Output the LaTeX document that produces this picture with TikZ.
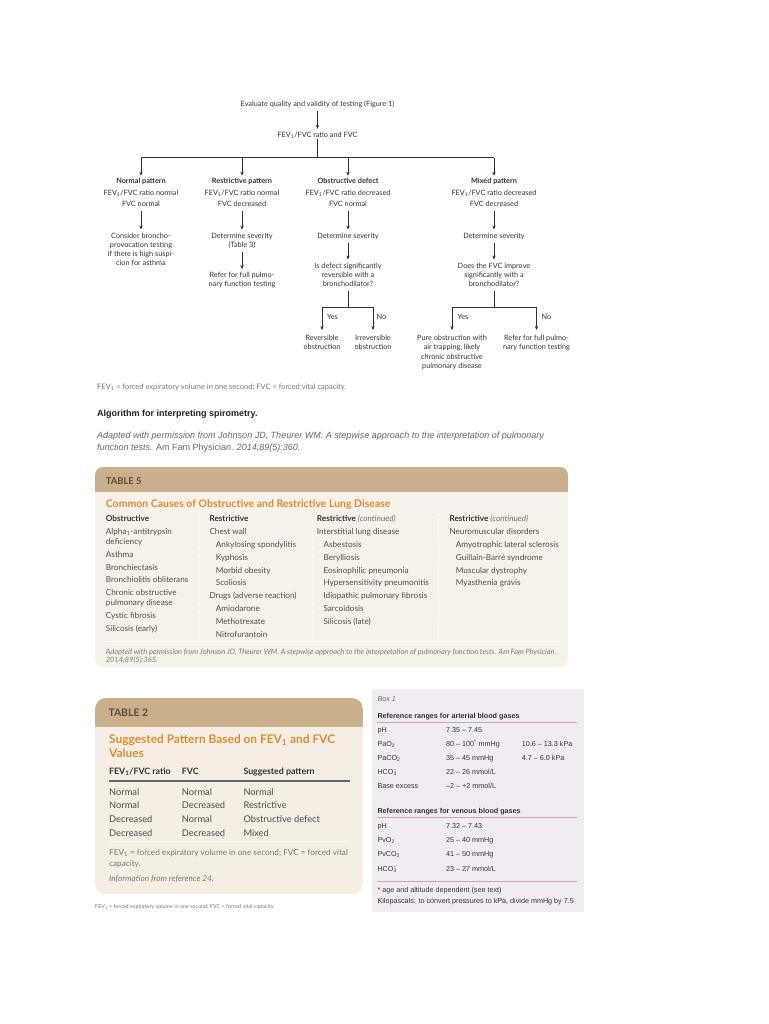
\documentclass[tikz,border=0pt]{standalone}
\usepackage{fontspec}
\setmainfont{Lato}
\newfontfamily\fa{Liberation Sans}
\usetikzlibrary{arrows.meta}
\newcommand\sbs[1]{\textsubscript{#1}}
\newcommand\hco{HCO\rlap{\textsubscript{3}}\textsuperscript{−}}
\definecolor{fc}{HTML}{333333}
\definecolor{capg}{HTML}{777777}
\definecolor{adg}{HTML}{666666}
\definecolor{algc}{HTML}{1F1F2A}
\definecolor{tan}{HTML}{C9B08A}
\definecolor{body}{HTML}{F7F2E9}
\definecolor{bodyb}{HTML}{F4EEE4}
\definecolor{orng}{HTML}{E08A2E}
\definecolor{hdr}{HTML}{5B4B3B}
\definecolor{tx}{HTML}{4D4D4D}
\definecolor{txd}{HTML}{333333}
\definecolor{boxbg}{HTML}{F1ECF1}
\definecolor{boxln}{HTML}{C6A6B6}
\definecolor{boxtx}{HTML}{333333}
\begin{document}
\begin{tikzpicture}[x=1pt,y=-1pt,
  ft/.style={font=\fontsize{7.3}{8}\selectfont, text=fc, inner sep=0pt, text height=5.3pt, text depth=1.8pt, anchor=base},
  ftb/.style={ft, font=\fontsize{7.3}{8}\selectfont\bfseries},
  ln/.style={draw=fc, line width=0.6pt},
  arr/.style={ln, -{Stealth[length=4pt,width=3.4pt]}, shorten <=2.3pt, shorten >=3.2pt},
  t5/.style={font=\fontsize{8.2}{9}\selectfont, text=tx, inner sep=0pt, anchor=base west},
  t5h/.style={font=\fontsize{8.2}{9}\selectfont\bfseries, text=txd, inner sep=0pt, anchor=base west},
  t2/.style={font=\fontsize{9.3}{10}\selectfont, text=tx, inner sep=0pt, anchor=base west},
  t2h/.style={font=\fontsize{8.8}{10}\selectfont\bfseries, text=txd, inner sep=0pt, anchor=base west},
  b1/.style={font=\fa\fontsize{7.2}{8}\selectfont, text=boxtx, inner sep=0pt, anchor=base west},
  b1h/.style={font=\fa\fontsize{7.2}{8}\selectfont\bfseries, text=boxtx, inner sep=0pt, anchor=base west},
  dv/.style={draw=white, line width=0.8pt, dash pattern=on 2pt off 1.5pt}
]
\useasboundingbox[fill=white] (0,0) rectangle (768,1024);

% ---------------- Flowchart ----------------
\node[ft] (eval) at (317.5,106.5) {Evaluate quality and validity of testing (Figure 1)};
\node[ft] (fev) at (317.5,137.5) {FEV\sbs{1}/FVC ratio and FVC};
\coordinate (hb) at (317.5,157.7);

\node[ftb] (n1) at (141,183.5) {Normal pattern};
\node[ft] (n2) at (141,195.2) {FEV\sbs{1}/FVC ratio normal};
\node[ft] (n3) at (141,206.8) {FVC normal};

\node[ftb] (r1) at (242,183.5) {Restrictive pattern};
\node[ft] (r2) at (242,195.2) {FEV\sbs{1}/FVC ratio normal};
\node[ft] (r3) at (242,206.8) {FVC decreased};

\node[ftb] (o1) at (348,183.5) {Obstructive defect};
\node[ft] (o2) at (348,195.2) {FEV\sbs{1}/FVC ratio decreased};
\node[ft] (o3) at (348,206.8) {FVC normal};

\node[ftb] (m1) at (494,183.5) {Mixed pattern};
\node[ft] (m2) at (494,195.2) {FEV\sbs{1}/FVC ratio decreased};
\node[ft] (m3) at (494,206.8) {FVC decreased};

\node[ft] (c1) at (141,238.2) {Consider broncho-};
\node[ft] (c2) at (141,247.8) {provocation testing};
\node[ft] (c3) at (141,256.8) {if there is high suspi-};
\node[ft] (c4) at (141,265.8) {cion for asthma};

\node[ft] (d1a) at (242,238.2) {Determine severity};
\node[ft] (d1b) at (242,247.8) {(Table 3)};
\node[ft] (rf1a) at (242,277.8) {Refer for full pulmo-};
\node[ft] (rf1b) at (242,286.8) {nary function testing};

\node[ft] (d2) at (348,238.2) {Determine severity};
\node[ft] (is1) at (348,268.2) {Is defect significantly};
\node[ft] (is2) at (348,277.5) {reversible with a};
\node[ft] (is3) at (348,286.5) {bronchodilator?};
\coordinate (hb2) at (348,307);
\node[ft] (rev1) at (322,340.8) {Reversible};
\node[ft] (rev2) at (322,349.8) {obstruction};
\node[ft] (irr1) at (373,340.8) {Irreversible};
\node[ft] (irr2) at (373,349.8) {obstruction};
\node[ft] (yes1) at (332.5,319.8) {Yes};
\node[ft] (no1) at (381.5,319.8) {No};

\node[ft] (d3) at (494,238.2) {Determine severity};
\node[ft] (df1) at (494,268.2) {Does the FVC improve};
\node[ft] (df2) at (494,277.5) {significantly with a};
\node[ft] (df3) at (494,286.5) {bronchodilator?};
\coordinate (hb3) at (494,307);
\node[ft] (pu1) at (452,340.8) {Pure obstruction with};
\node[ft] (pu2) at (452,349.8) {air trapping, likely};
\node[ft] (pu3) at (452,359.2) {chronic obstructive};
\node[ft] (pu4) at (452,368.2) {pulmonary disease};
\node[ft] (rf2a) at (536.5,340.8) {Refer for full pulmo-};
\node[ft] (rf2b) at (536.5,349.8) {nary function testing};
\node[ft] (yes2) at (463,319.8) {Yes};
\node[ft] (no2) at (546.5,319.8) {No};

\draw[arr] (eval.south) -- (fev.north);
\draw[ln] (fev.south) -- (hb);
\draw[ln] (n1.north |- hb) -- (m1.north |- hb);
\foreach \n in {n1,r1,o1,m1} \draw[arr, shorten <=0pt, shorten >=2.3pt] (\n.north |- hb) -- (\n.north);
\draw[arr] (n3.south) -- (c1.north);
\draw[arr] (r3.south) -- (d1a.north);
\draw[arr] (d1b.south) -- (rf1a.north);
\draw[arr] (o3.south) -- (d2.north);
\draw[arr] (d2.south) -- (is1.north);
\draw[arr] (m3.south) -- (d3.north);
\draw[arr] (d3.south) -- (df1.north);
\draw[ln, shorten <=2.5pt] (is3.south) -- (hb2);
\draw[ln] (rev1.north |- hb2) -- (irr1.north |- hb2);
\draw[arr, shorten <=0pt, shorten >=5.3pt] (rev1.north |- hb2) -- (rev1.north);
\draw[arr, shorten <=0pt, shorten >=5.3pt] (irr1.north |- hb2) -- (irr1.north);
\draw[ln, shorten <=2.5pt] (df3.south) -- (hb3);
\draw[ln] (pu1.north |- hb3) -- (rf2a.north |- hb3);
\draw[arr, shorten <=0pt, shorten >=5.3pt] (pu1.north |- hb3) -- (pu1.north);
\draw[arr, shorten <=0pt, shorten >=5.3pt] (rf2a.north |- hb3) -- (rf2a.north);

% ---------------- Captions ----------------
\node[font=\fontsize{7.5}{8}\selectfont, text=capg, inner sep=0pt, anchor=base west] (foot1) at (97,389) {FEV\sbs{1} = forced expiratory volume in one second; FVC = forced vital capacity.};
\node[font=\fa\fontsize{9}{10}\selectfont\bfseries, text=algc, inner sep=0pt, anchor=base west] (alg) at (97,416.6) {Algorithm for interpreting spirometry.};
\node[font=\fa\fontsize{9}{10}\selectfont\itshape, text=adg, inner sep=0pt, anchor=base west] (ad1) at (97,438.2) {Adapted with permission from Johnson JD, Theurer WM. A stepwise approach to the interpretation of pulmonary};
\node[font=\fa\fontsize{9}{10}\selectfont, text=adg, inner sep=0pt, anchor=base west] (ad2) at (97,450.9) {\textit{function tests.} Am Fam Physician. \textit{2014;89(5):360.}};

% ---------------- Table 5 ----------------
\begin{scope}
\clip[rounded corners=8pt] (95,467) rectangle (568,667);
\fill[tan] (95,467) rectangle (568,491.7);
\fill[body] (95,491.7) rectangle (568,667);
\end{scope}
\node[font=\fontsize{9.4}{10}\selectfont\bfseries, text=hdr, inner sep=0pt, anchor=base west] (t5t) at (105.7,484) {TABLE 5};
\node[font=\fontsize{10.5}{11}\selectfont\bfseries, text=orng, inner sep=0pt, anchor=base west] (t5ti) at (105.7,507) {Common Causes of Obstructive and Restrictive Lung Disease};
\draw[dv] (199,514) -- (199,640);
\draw[dv] (312.7,514) -- (312.7,640);
\draw[dv] (438.3,514) -- (438.3,640);
\draw[white, line width=0.9pt] (105,641.7) -- (560,641.7);

\node[t5h] (a0) at (105.7,521.2) {Obstructive};
\node[t5] (a1) at (105.7,534.6) {Alpha\sbs{1}-antitrypsin};
\node[t5] (a2) at (105.7,544.2) {deficiency};
\node[t5] (a3) at (105.7,557.2) {Asthma};
\node[t5] (a4) at (105.7,570.2) {Bronchiectasis};
\node[t5] (a5) at (105.7,582.9) {Bronchiolitis obliterans};
\node[t5] (a6) at (105.7,595.9) {Chronic obstructive};
\node[t5] (a7) at (105.7,605.6) {pulmonary disease};
\node[t5] (a8) at (105.7,618.6) {Cystic fibrosis};
\node[t5] (a9) at (105.7,631.6) {Silicosis (early)};

\node[t5h] (b0) at (209.3,521.2) {Restrictive};
\node[t5] (b1) at (209.3,534.6) {Chest wall};
\node[t5] (b2) at (215.7,547.2) {Ankylosing spondylitis};
\node[t5] (b3) at (215.7,560.2) {Kyphosis};
\node[t5] (b4) at (215.7,573.2) {Morbid obesity};
\node[t5] (b5) at (215.7,585.9) {Scoliosis};
\node[t5] (b6) at (209.3,598.9) {Drugs (adverse reaction)};
\node[t5] (b7) at (215.7,611.6) {Amiodarone};
\node[t5] (b8) at (215.7,624.6) {Methotrexate};
\node[t5] (b9) at (215.7,637.2) {Nitrofurantoin};

\node[t5h] (e0) at (316.7,521.2) {Restrictive \textcolor{tx!80}{\mdseries\itshape(continued)}};
\node[t5] (e1) at (316.7,534.6) {Interstitial lung disease};
\node[t5] (e2) at (323.3,547.2) {Asbestosis};
\node[t5] (e3) at (323.3,560.2) {Berylliosis};
\node[t5] (e4) at (323.3,573.2) {Eosinophilic pneumonia};
\node[t5] (e5) at (323.3,585.9) {Hypersensitivity pneumonitis};
\node[t5] (e6) at (323.3,598.9) {Idiopathic pulmonary fibrosis};
\node[t5] (e7) at (323.3,611.6) {Sarcoidosis};
\node[t5] (e8) at (323.3,624.6) {Silicosis (late)};

\node[t5h] (g0) at (449.3,521.2) {Restrictive \textcolor{tx!80}{\mdseries\itshape(continued)}};
\node[t5] (g1) at (449.3,534.6) {Neuromuscular disorders};
\node[t5] (g2) at (455.7,547.2) {Amyotrophic lateral sclerosis};
\node[t5] (g3) at (455.7,560.2) {Guillain-Barré syndrome};
\node[t5] (g4) at (455.7,573.2) {Muscular dystrophy};
\node[t5] (g5) at (455.7,585.9) {Myasthenia gravis};

\node[font=\fontsize{7.4}{8}\selectfont\itshape, text=capg, inner sep=0pt, anchor=base west] (t5f1) at (105.7,654.2) {Adapted with permission from Johnson JD, Theurer WM. A stepwise approach to the interpretation of pulmonary function tests. Am Fam Physician.};
\node[font=\fontsize{7.4}{8}\selectfont\itshape, text=capg, inner sep=0pt, anchor=base west] (t5f2) at (105.7,662.6) {2014;89(5):365.};

% ---------------- Table 2 ----------------
\begin{scope}
\clip[rounded corners=11pt] (95,698) rectangle (363,894.3);
\fill[tan] (95,698) rectangle (363,726.7);
\fill[bodyb] (95,726.7) rectangle (363,894.3);
\end{scope}
\node[font=\fontsize{10.4}{11}\selectfont\bfseries, text=hdr, inner sep=0pt, anchor=base west] (t2t) at (108.3,716.2) {TABLE 2};
\node[font=\fontsize{11.9}{13}\selectfont\bfseries, text=orng, inner sep=0pt, anchor=base west] (t2a) at (109,743.8) {Suggested Pattern Based on FEV\sbs{1} and FVC};
\node[font=\fontsize{11.9}{13}\selectfont\bfseries, text=orng, inner sep=0pt, anchor=base west] (t2b) at (109,757.2) {Values};
\node[t2h] (h1) at (109,774.2) {FEV\sbs{1}/FVC ratio};
\node[t2h] (h2) at (181.7,774.2) {FVC};
\node[t2h] (h3) at (243.3,774.2) {Suggested pattern};
\draw[draw=adg, line width=1.2pt] (109,781) -- (350,781);
\node[t2] (p11) at (109,795.3) {Normal};
\node[t2] (p12) at (181.7,795.3) {Normal};
\node[t2] (p13) at (243.3,795.3) {Normal};
\node[t2] (p21) at (109,808.6) {Normal};
\node[t2] (p22) at (181.7,808.6) {Decreased};
\node[t2] (p23) at (243.3,808.6) {Restrictive};
\node[t2] (p31) at (109,822.3) {Decreased};
\node[t2] (p32) at (181.7,822.3) {Normal};
\node[t2] (p33) at (243.3,822.3) {Obstructive defect};
\node[t2] (p41) at (109,836) {Decreased};
\node[t2] (p42) at (181.7,836) {Decreased};
\node[t2] (p43) at (243.3,836) {Mixed};
\draw[white, line width=0.9pt] (109,841.7) -- (350,841.7);
\node[font=\fontsize{8.2}{9}\selectfont, text=capg, inner sep=0pt, anchor=base west] (f21) at (109,855.6) {FEV\sbs{1} = forced expiratory volume in one second; FVC = forced vital};
\node[font=\fontsize{8.2}{9}\selectfont, text=capg, inner sep=0pt, anchor=base west] (f22) at (109,866.9) {capacity.};
\node[font=\fontsize{8.2}{9}\selectfont\itshape, text=capg, inner sep=0pt, anchor=base west] (f23) at (109,881.2) {Information from reference 24.};
\node[font=\fontsize{5.4}{6}\selectfont, text=capg, inner sep=0pt, anchor=base west] (f24) at (95,908.8) {FEV\sbs{1} = forced expiratory volume in one second; FVC = forced vital capacity.};

% ---------------- Box 1 ----------------
\fill[boxbg] (372,689) rectangle (584,912);
\node[font=\fa\fontsize{7.2}{8}\selectfont\itshape, text=adg, inner sep=0pt, anchor=base west] (bx) at (377.3,701.3) {Box 1};
\node[b1h] (ba) at (377.3,718.9) {Reference ranges for arterial blood gases};
\draw[boxln, line width=0.8pt] (377,722.5) -- (577,722.5);
\node[b1] (ba1) at (377.3,732.2) {pH};
\node[b1] (ba2) at (377.3,746.5) {PaO\sbs{2}};
\node[b1] (ba3) at (377.3,760.5) {PaCO\sbs{2}};
\node[b1] (ba4) at (377.3,774.8) {\hco};
\node[b1] (ba5) at (377.3,788.8) {Base excess};
\node[b1] (bv1) at (446,732.2) {7.35 – 7.45};
\node[b1] (bv2) at (446,746.5) {80 – 100\textsuperscript{*} mmHg};
\node[b1] (bv3) at (446,760.5) {35 – 45 mmHg};
\node[b1] (bv4) at (446,774.8) {22 – 26 mmol/L};
\node[b1] (bv5) at (446,788.8) {–2 – +2 mmol/L};
\node[b1] (bk2) at (521.7,746.5) {10.6 – 13.3 kPa};
\node[b1] (bk3) at (521.7,760.5) {4.7 – 6.0 kPa};
\node[b1h] (bb) at (377.3,813.9) {Reference ranges for venous blood gases};
\draw[boxln, line width=0.8pt] (377,817.5) -- (577,817.5);
\node[b1] (bw1) at (377.3,828.2) {pH};
\node[b1] (bw2) at (377.3,842.8) {PvO\sbs{2}};
\node[b1] (bw3) at (377.3,856.5) {PvCO\sbs{2}};
\node[b1] (bw4) at (377.3,871.2) {\hco};
\node[b1] (bu1) at (446,828.2) {7.32 – 7.43};
\node[b1] (bu2) at (446,842.8) {25 – 40 mmHg};
\node[b1] (bu3) at (446,856.5) {41 – 50 mmHg};
\node[b1] (bu4) at (446,871.2) {23 – 27 mmol/L};
\draw[boxln, line width=0.8pt] (377,881.3) -- (577,881.3);
\node[b1] (bn1) at (377.3,892.2) {* age and altitude dependent (see text)};
\node[b1] (bn2) at (377.3,903.2) {Kilopascals: to convert pressures to kPa, divide mmHg by 7.5};
\end{tikzpicture}
\end{document}
